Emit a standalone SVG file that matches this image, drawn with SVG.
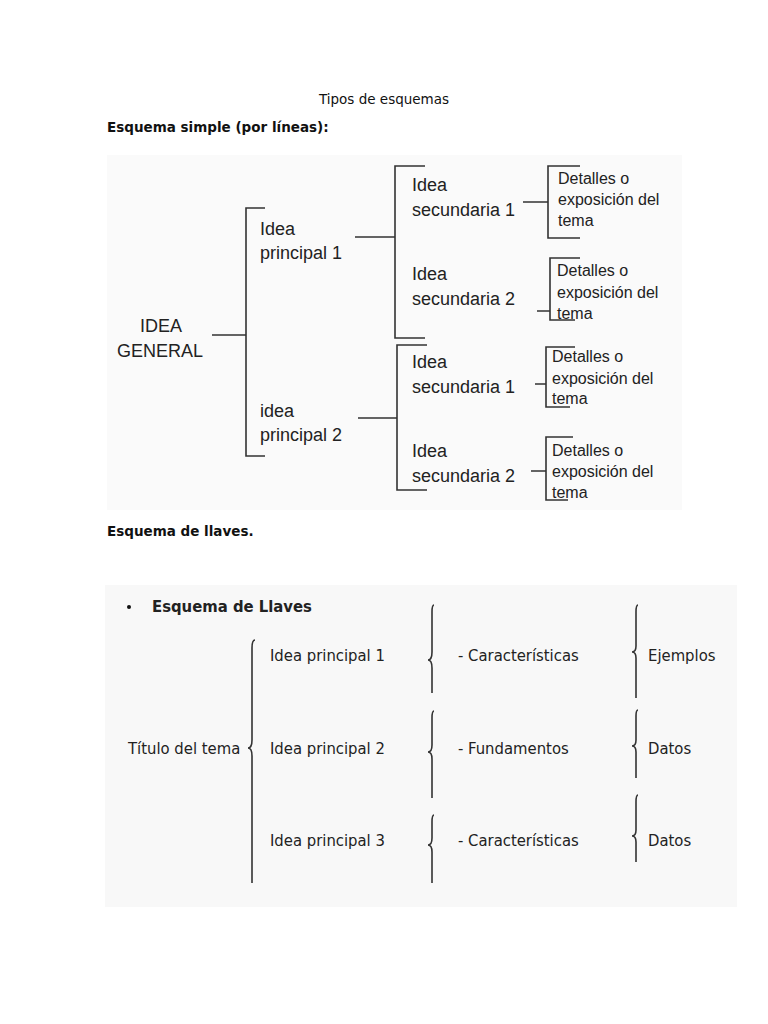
<svg xmlns="http://www.w3.org/2000/svg" width="768" height="1024" viewBox="0 0 768 1024">
<style>
.h{font-family:"DejaVu Sans",sans-serif;font-size:13.5px;fill:#111}
.b{font-weight:bold}
.t{font-family:"Liberation Sans",Arial,sans-serif;font-size:18px;fill:#222}
.d{font-family:"Liberation Sans",Arial,sans-serif;font-size:16px;fill:#222}
.k{font-family:"DejaVu Sans",sans-serif;font-size:16.5px;fill:#222;font-stretch:condensed}
.l{stroke:#333;stroke-width:1.6;fill:none}
</style>
<rect width="768" height="1024" fill="#fff"/>
<text class="h" x="384" y="104" text-anchor="middle">Tipos de esquemas</text>
<text class="h b" x="107" y="132">Esquema simple (por líneas):</text>
<text class="h b" x="107" y="536">Esquema de llaves.</text>
<rect x="107" y="155" width="575" height="355" fill="#fafafa"/>
<rect x="105" y="585" width="632" height="322" fill="#f8f8f8"/>
<g id="connectors">
<path class="l" d="M212,335H246M265,208H246V456H265"/>
<path class="l" d="M355,237H395M425,166H395V338H425"/>
<path class="l" d="M358,418H397M427,345H397V490H427"/>
<path class="l" d="M523,202H548M580,166H548V238H580"/>
<path class="l" d="M537,311H550M580,258H550V320H575"/>
<path class="l" d="M535,384H546M575,347H546V407H570"/>
<path class="l" d="M531,471H546M573,437H546V500H568"/>
<path class="l" d="M255,640Q252,640 252,648V740Q252,748 248,748Q252,748 252,756V883"/>
<path class="l" d="M434,605Q432,605 432,612V652Q432,660 428,660Q432,660 432,668V693"/>
<path class="l" d="M434,711Q432,711 432,718V745Q432,752 428,752Q432,752 432,759V798"/>
<path class="l" d="M434,815Q432,815 432,822V838Q432,845 428,845Q432,845 432,852V883"/>
<path class="l" d="M638,605Q636,605 636,612V646Q636,652 632,652Q636,652 636,658V698"/>
<path class="l" d="M638,710Q636,710 636,716V740Q636,746 632,746Q636,746 636,752V778"/>
<path class="l" d="M638,795Q636,795 636,802V830Q636,836 632,836Q636,836 636,842V862"/>
</g>
<g id="idea-general"><text class="t" x="140" y="332">IDEA</text><text class="t" x="117" y="357">GENERAL</text></g>
<g id="ip1"><text class="t" x="260" y="235">Idea</text><text class="t" x="260" y="259">principal 1</text></g>
<g id="ip2"><text class="t" x="260" y="417">idea</text><text class="t" x="260" y="441">principal 2</text></g>
<g id="is11"><text class="t" x="412" y="191">Idea</text><text class="t" x="412" y="216">secundaria 1</text></g>
<g id="is12"><text class="t" x="412" y="280">Idea</text><text class="t" x="412" y="305">secundaria 2</text></g>
<g id="is21"><text class="t" x="412" y="368">Idea</text><text class="t" x="412" y="393">secundaria 1</text></g>
<g id="is22"><text class="t" x="412" y="457">Idea</text><text class="t" x="412" y="482">secundaria 2</text></g>
<g id="d11"><text class="d" x="558" y="184">Detalles o</text><text class="d" x="558" y="205">exposición del</text><text class="d" x="558" y="226">tema</text></g>
<g id="d12"><text class="d" x="557" y="276">Detalles o</text><text class="d" x="557" y="298">exposición del</text><text class="d" x="557" y="319">tema</text></g>
<g id="d21"><text class="d" x="552" y="362">Detalles o</text><text class="d" x="552" y="384">exposición del</text><text class="d" x="552" y="404">tema</text></g>
<g id="d22"><text class="d" x="552" y="456">Detalles o</text><text class="d" x="552" y="477">exposición del</text><text class="d" x="552" y="498">tema</text></g>
<g id="llaves-title"><circle cx="129" cy="607" r="2" fill="#111"/><text class="k b" x="152" y="612" font-size="17.5">Esquema de Llaves</text></g>
<g id="titulo"><text class="k" x="128" y="754">Título del tema</text></g>
<g id="p1"><text class="k" x="270" y="661">Idea principal 1</text></g>
<g id="p2"><text class="k" x="270" y="754">Idea principal 2</text></g>
<g id="p3"><text class="k" x="270" y="846">Idea principal 3</text></g>
<g id="c1"><text class="k" x="458" y="661">- Características</text></g>
<g id="c2"><text class="k" x="458" y="754">- Fundamentos</text></g>
<g id="c3"><text class="k" x="458" y="846">- Características</text></g>
<g id="e1"><text class="k" x="648" y="661">Ejemplos</text></g>
<g id="e2"><text class="k" x="648" y="754">Datos</text></g>
<g id="e3"><text class="k" x="648" y="846">Datos</text></g>
</svg>
